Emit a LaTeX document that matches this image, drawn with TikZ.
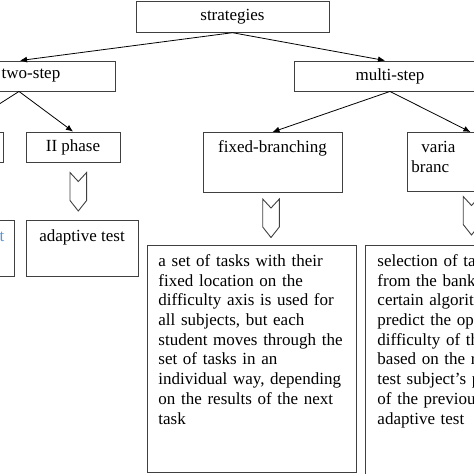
\documentclass[tikz,border=0pt]{standalone}
\usepackage{fontspec}
\setmainfont{Liberation Serif}
\usetikzlibrary{arrows.meta}
\definecolor{linkblue}{RGB}{90,150,210}

\begin{document}
\begin{tikzpicture}[x=1pt, y=-1pt,
	every node/.style={font=\fontsize{17}{19.7}\selectfont},
	box/.style={draw=black!75, line width=0.9pt, rectangle, inner sep=0pt},
	textbox/.style={box, align=left, anchor=north west, inner xsep=11pt, inner ysep=8pt, text height=13pt},
	arrow/.style={-{Latex[length=7pt, width=6pt]}, line width=0.8pt},
	chevron/.pic={\draw[line width=0.9pt, draw=black!75] (-8.3,0) -- (0,9) -- (8.3,0) -- (8.3,28) -- (0,38.5) -- (-8.3,28) -- cycle;}
	]
	
	\useasboundingbox (0,0) rectangle (474,474);
	\clip (0,0) rectangle (474,474);
	
	% Top level
	\node[box, minimum width=193pt, minimum height=30.5pt] (strat) at (232.5,17) {strategies};
	
	% Second level
	\node[box, minimum width=168pt, minimum height=30pt] (twostep) at (31,76) {two-step};
	\node[box, minimum width=192pt, minimum height=30pt] (multistep) at (390,76) {multi-step};
	
	% Third level
	\node[box, minimum width=94pt, minimum height=30pt] (phaseone) at (-44,147) {};
	\node[box, minimum width=94pt, minimum height=30pt] (phasetwo) at (73,147) {II phase};
	\node[box, anchor=north, minimum width=139pt, inner ysep=6pt, text height=14pt, text depth=34pt] (fixbr) at (272.5,132) {fixed-branching};
	\node[box, anchor=north west, align=left, text width=118pt, inner xsep=4pt, inner ysep=6pt, text height=14pt, text depth=33pt] (varbr) at (407,132) {\hspace*{10pt}varia\\branc};
	
	% Fourth level
	\node[box, anchor=north east, minimum width=112pt, minimum height=56pt] (testone) at (15,220) {};
	\node[anchor=base east, inner sep=0pt, text=linkblue] (testonetxt) at (4.5,241) {t};
	\node[box, anchor=north, minimum width=112pt, inner ysep=6pt, text height=15pt, text depth=29pt] (testtwo) at (82,220) {adaptive test};
	
	% Descriptions
	\node[textbox, text width=187pt, text depth=198pt] (fixdesc) at (147,245) {a set of tasks with their\\fixed location on the\\difficulty axis is used for\\all subjects, but each\\student moves through the\\set of tasks in an\\individual way, depending\\on the results of the next\\task};
	\node[textbox, text width=187pt, inner xsep=12pt, text depth=225pt] (vardesc) at (365,245) {selection of ta\\from the bank\\certain algorit\\predict the opt\\difficulty of th\\based on the r\\test subject's p\\of the previou\\adaptive test};
	
	% Block arrows
	\pic at (78.3,172.5) {chevron};
	\pic at (271,199) {chevron};
	\pic at (471.5,196.5) {chevron};
	
	% Connections
	\draw[arrow] (strat.south) -- ([xshift=-11pt]twostep.north);
	\draw[arrow] (strat.south) -- ([xshift=-5pt]multistep.north);
	\foreach \i in {phaseone, phasetwo} {
		\draw[arrow] ([xshift=-12pt]twostep.south) -- (\i.north);
	}
	\foreach \i in {fixbr, varbr} {
		\draw[arrow] (multistep.south) -- (\i.north);
	}
	
\end{tikzpicture}
\end{document}
